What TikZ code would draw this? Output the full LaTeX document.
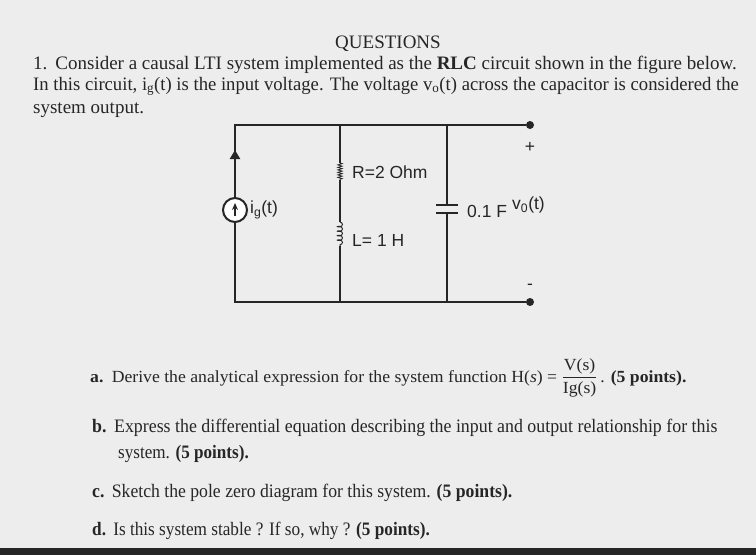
\documentclass[tikz,border=0pt]{standalone}
\usepackage{fontspec}
\usepackage{graphicx}
\setmainfont{Liberation Serif}
\newfontfamily\cfont{Liberation Sans}
\usetikzlibrary{decorations.pathmorphing,arrows.meta}
\newcommand\hsx[2]{\scalebox{#1}[1]{#2}}
\begin{document}
\begin{tikzpicture}[x=1pt,y=-1pt,
  txt/.style={anchor=base west,inner sep=0pt,font=\fontsize{19}{21}\selectfont,text=black!85},
  clab/.style={inner sep=0pt,font=\cfont\fontsize{17.5}{19}\selectfont,text=black!85},
  wire/.style={line width=2.4pt,black!85}]
\useasboundingbox (0,0) rectangle (756,555);
\fill[black!7] (0,0) rectangle (756,555);
\fill[black!85] (0,548) rectangle (756,555);
% text
\node[anchor=base,inner sep=0pt,font=\fontsize{19}{21}\selectfont,text=black!85] (q) at (388,48) {QUESTIONS};
\node[txt] (l1) at (33,69) {1.\hspace{8pt}Consider a causal LTI system implemented as the \textbf{RLC} circuit shown in the figure below.};
\node[txt] (l2) at (33,90) {\hsx{0.982}{In this circuit, i\textsubscript{g}(t) is the input voltage. The voltage v\textsubscript{o}(t) across the capacitor is considered the}};
\node[txt] (l3) at (33,113) {system output.};
\node[txt,font=\fontsize{17}{19}\selectfont] (a) at (90,382) {\hsx{1.04}{\textbf{a.}\hspace{8pt}Derive the analytical expression for the system function H(\textit{s}) = $\displaystyle\frac{\hbox{V(s)}}{\hbox{Ig(s)}}$\,. \textbf{(5 points).}}};
\node[txt] (b1) at (92,432) {\hsx{0.94}{\textbf{b.}\hspace{8pt}Express the differential equation describing the input and output relationship for this}};
\node[txt] (b2) at (118,458) {\hsx{0.9}{system. \textbf{(5 points).}}};
\node[txt] (c) at (92,497) {\hsx{0.93}{\textbf{c.}\hspace{8pt}Sketch the pole zero diagram for this system. \textbf{(5 points).}}};
\node[txt] (d) at (92,535) {\hsx{0.906}{\textbf{d.}\hspace{8pt}Is this system stable ? If so, why ? \textbf{(5 points).}}};
% circuit
\coordinate (tl) at (235,125); \coordinate (bl) at (235,302);
\coordinate (tm) at (340,125); \coordinate (bm) at (340,302);
\coordinate (tc) at (447,125); \coordinate (bc) at (447,302);
\node[circle,fill=black!85,inner sep=0pt,minimum size=8pt] (tp) at (530,125) {};
\node[circle,fill=black!85,inner sep=0pt,minimum size=8pt] (bp) at (530,302) {};
\node[circle,draw=black!85,line width=2pt,fill=white,minimum size=24pt,inner sep=0pt] (src) at (235,210) {};
\draw[wire] (src.north) -- (tl) -- (tp);
\draw[wire] (src.south) -- (bl) -- (bp);
\draw[black!85,line width=1.6pt,-{Stealth[length=7pt,width=6pt]}] (235,216) -- (235,203);
\draw[wire,-{Triangle[length=9pt,width=10pt]}] (235,170) -- (235,150);
% RL branch
\coordinate (r1) at (340,163); \coordinate (r2) at (340,180);
\coordinate (i1) at (340,222); \coordinate (i2) at (340,246);
\draw[wire] (tm) -- (r1);
\draw[black!85,line width=0.9pt,decorate,decoration={zigzag,segment length=2.5pt,amplitude=2pt}] (r1) -- (r2);
\draw[wire] (r2) -- (i1);
\draw[black!85,line width=1pt,decorate,decoration={coil,segment length=4.5pt,amplitude=2.5pt,aspect=0.5}] (i1) -- (i2);
\draw[wire] (i2) -- (bm);
% capacitor
\coordinate (c1) at (447,205); \coordinate (c2) at (447,213);
\draw[wire] (tc) -- (c1); \draw[wire] (c2) -- (bc);
\draw[black!85,line width=2pt] (436,205) -- (458,205) (436,213) -- (458,213);
% labels
\node[clab,anchor=west] (rl) at (352,172) {R=2 Ohm};
\node[clab,anchor=west] (ll) at (352,240) {L= 1 H};
\node[clab,anchor=west] (cl) at (467,211) {0.1 F};
\node[clab,anchor=west] (vl) at (512,205) {v\textsubscript{0}(t)};
\node[clab,anchor=west] (il) at (250,210) {i\textsubscript{g}(t)};
\node[clab] (pl) at (530,147) {+};
\node[clab] (ml) at (530,287) {-};
\end{tikzpicture}
\end{document}
